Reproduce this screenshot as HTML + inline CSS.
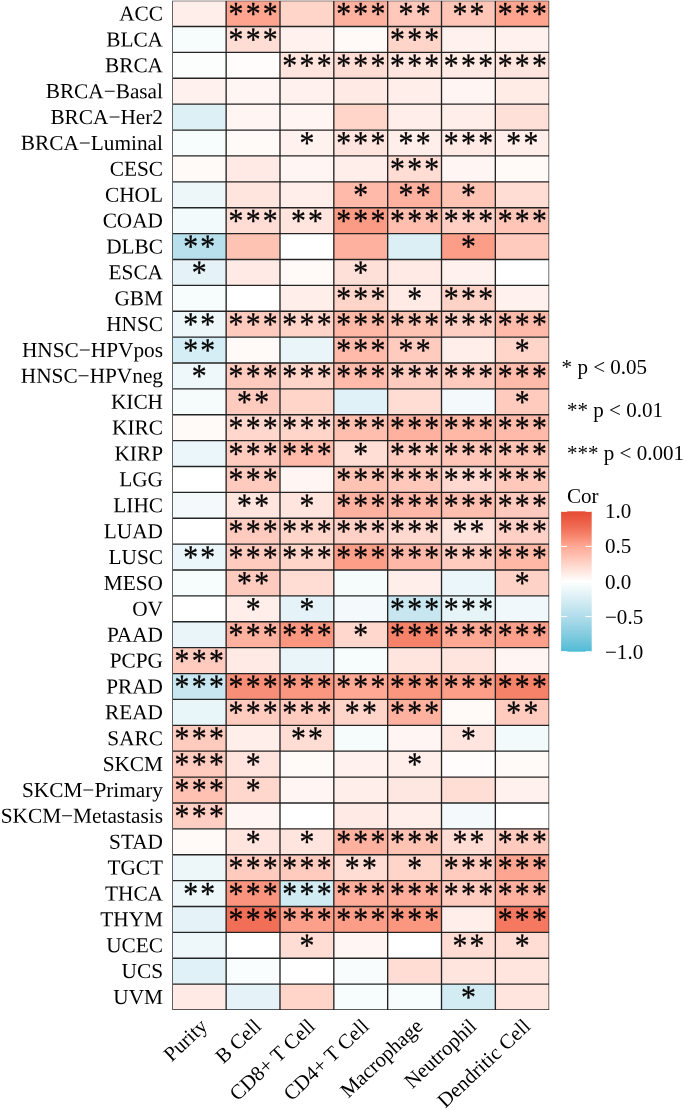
<!DOCTYPE html>
<html><head><meta charset="utf-8"><title>Cor heatmap</title>
<style>
html,body{margin:0;padding:0;background:#fff}
body{width:685px;height:1110px;overflow:hidden}
svg{display:block}
svg text{font-family:"Liberation Serif",serif;fill:#000}
.rl{font-size:21.3px;text-anchor:end}
.st{font-size:31px;text-anchor:middle;letter-spacing:2.4px;stroke:#000;stroke-width:0.3px;stroke-linejoin:round}
.cl{font-size:20.8px;text-anchor:end}
.lg{font-size:21.05px}
</style></head><body>
<svg width="685" height="1110" viewBox="0 0 685 1110">
<rect width="685" height="1110" fill="#fff"/>
<defs><linearGradient id="cb" x1="0" y1="0" x2="0" y2="1"><stop offset="0.000" stop-color="#e64b35"/><stop offset="0.025" stop-color="#e8523b"/><stop offset="0.050" stop-color="#ea5941"/><stop offset="0.075" stop-color="#ed6048"/><stop offset="0.100" stop-color="#ef6850"/><stop offset="0.125" stop-color="#f27159"/><stop offset="0.150" stop-color="#f47b63"/><stop offset="0.175" stop-color="#f7866e"/><stop offset="0.200" stop-color="#fa917b"/><stop offset="0.225" stop-color="#fc9d88"/><stop offset="0.250" stop-color="#ffa995"/><stop offset="0.275" stop-color="#ffb1a0"/><stop offset="0.300" stop-color="#ffbaaa"/><stop offset="0.325" stop-color="#ffc3b4"/><stop offset="0.350" stop-color="#ffcbbf"/><stop offset="0.375" stop-color="#ffd4c9"/><stop offset="0.400" stop-color="#ffddd4"/><stop offset="0.425" stop-color="#ffe5de"/><stop offset="0.450" stop-color="#ffeee9"/><stop offset="0.475" stop-color="#fff6f4"/><stop offset="0.500" stop-color="#ffffff"/><stop offset="0.525" stop-color="#f7fcfd"/><stop offset="0.550" stop-color="#f0f8fb"/><stop offset="0.575" stop-color="#e8f5f9"/><stop offset="0.600" stop-color="#e0f1f7"/><stop offset="0.625" stop-color="#d8eef4"/><stop offset="0.650" stop-color="#d0ebf2"/><stop offset="0.675" stop-color="#c8e7f0"/><stop offset="0.700" stop-color="#c0e4ee"/><stop offset="0.725" stop-color="#b8e0ec"/><stop offset="0.750" stop-color="#b0ddea"/><stop offset="0.775" stop-color="#a7dae8"/><stop offset="0.800" stop-color="#9fd6e6"/><stop offset="0.825" stop-color="#96d3e4"/><stop offset="0.850" stop-color="#8dcfe2"/><stop offset="0.875" stop-color="#84ccdf"/><stop offset="0.900" stop-color="#7ac9dd"/><stop offset="0.925" stop-color="#70c5db"/><stop offset="0.950" stop-color="#65c2d9"/><stop offset="0.975" stop-color="#5abed7"/><stop offset="1.000" stop-color="#4dbbd5"/></linearGradient></defs>
<clipPath id="pc"><rect x="172.30" y="0.65" width="376.90" height="1009.35"/></clipPath>
<g clip-path="url(#pc)">
<g><rect x="172.00" y="0.35" width="54.44" height="26.48" fill="#ffeee9"/><rect x="225.84" y="0.35" width="54.44" height="26.48" fill="#fea48f"/><rect x="279.69" y="0.35" width="54.44" height="26.48" fill="#ffd4c9"/><rect x="333.53" y="0.35" width="54.44" height="26.48" fill="#ffb1a0"/><rect x="387.37" y="0.35" width="54.44" height="26.48" fill="#ffc8ba"/><rect x="441.21" y="0.35" width="54.44" height="26.48" fill="#ffc6b8"/><rect x="495.06" y="0.35" width="54.44" height="26.48" fill="#fea48f"/></g>
<g><rect x="172.00" y="26.23" width="54.44" height="26.48" fill="#f7fcfd"/><rect x="225.84" y="26.23" width="54.44" height="26.48" fill="#ffddd4"/><rect x="279.69" y="26.23" width="54.44" height="26.48" fill="#fff1ee"/><rect x="333.53" y="26.23" width="54.44" height="26.48" fill="#fffaf8"/><rect x="387.37" y="26.23" width="54.44" height="26.48" fill="#ffd4c9"/><rect x="441.21" y="26.23" width="54.44" height="26.48" fill="#fff1ee"/><rect x="495.06" y="26.23" width="54.44" height="26.48" fill="#fff1ee"/></g>
<g><rect x="172.00" y="52.11" width="54.44" height="26.48" fill="#fcfefe"/><rect x="225.84" y="52.11" width="54.44" height="26.48" fill="#fffcfb"/><rect x="279.69" y="52.11" width="54.44" height="26.48" fill="#ffe5de"/><rect x="333.53" y="52.11" width="54.44" height="26.48" fill="#ffddd4"/><rect x="387.37" y="52.11" width="54.44" height="26.48" fill="#ffe5de"/><rect x="441.21" y="52.11" width="54.44" height="26.48" fill="#ffeae5"/><rect x="495.06" y="52.11" width="54.44" height="26.48" fill="#ffe5de"/></g>
<g><rect x="172.00" y="77.99" width="54.44" height="26.48" fill="#fff1ee"/><rect x="225.84" y="77.99" width="54.44" height="26.48" fill="#fff6f4"/><rect x="279.69" y="77.99" width="54.44" height="26.48" fill="#fff1ee"/><rect x="333.53" y="77.99" width="54.44" height="26.48" fill="#ffeae5"/><rect x="387.37" y="77.99" width="54.44" height="26.48" fill="#ffeee9"/><rect x="441.21" y="77.99" width="54.44" height="26.48" fill="#fff6f4"/><rect x="495.06" y="77.99" width="54.44" height="26.48" fill="#ffece7"/></g>
<g><rect x="172.00" y="103.87" width="54.44" height="26.48" fill="#ddf0f6"/><rect x="225.84" y="103.87" width="54.44" height="26.48" fill="#fff6f4"/><rect x="279.69" y="103.87" width="54.44" height="26.48" fill="#fff6f4"/><rect x="333.53" y="103.87" width="54.44" height="26.48" fill="#ffd4c9"/><rect x="387.37" y="103.87" width="54.44" height="26.48" fill="#ffeee9"/><rect x="441.21" y="103.87" width="54.44" height="26.48" fill="#ffeee9"/><rect x="495.06" y="103.87" width="54.44" height="26.48" fill="#ffe0d8"/></g>
<g><rect x="172.00" y="129.75" width="54.44" height="26.48" fill="#f7fcfd"/><rect x="225.84" y="129.75" width="54.44" height="26.48" fill="#fffaf8"/><rect x="279.69" y="129.75" width="54.44" height="26.48" fill="#fff1ee"/><rect x="333.53" y="129.75" width="54.44" height="26.48" fill="#ffe5de"/><rect x="387.37" y="129.75" width="54.44" height="26.48" fill="#ffeee9"/><rect x="441.21" y="129.75" width="54.44" height="26.48" fill="#ffeae5"/><rect x="495.06" y="129.75" width="54.44" height="26.48" fill="#ffeee9"/></g>
<g><rect x="172.00" y="155.63" width="54.44" height="26.48" fill="#fffaf8"/><rect x="225.84" y="155.63" width="54.44" height="26.48" fill="#ffeae5"/><rect x="279.69" y="155.63" width="54.44" height="26.48" fill="#fff6f4"/><rect x="333.53" y="155.63" width="54.44" height="26.48" fill="#ffeee9"/><rect x="387.37" y="155.63" width="54.44" height="26.48" fill="#ffddd4"/><rect x="441.21" y="155.63" width="54.44" height="26.48" fill="#fff6f4"/><rect x="495.06" y="155.63" width="54.44" height="26.48" fill="#fffaf8"/></g>
<g><rect x="172.00" y="181.52" width="54.44" height="26.48" fill="#edf7fa"/><rect x="225.84" y="181.52" width="54.44" height="26.48" fill="#ffe5de"/><rect x="279.69" y="181.52" width="54.44" height="26.48" fill="#ffeee9"/><rect x="333.53" y="181.52" width="54.44" height="26.48" fill="#ffbaaa"/><rect x="387.37" y="181.52" width="54.44" height="26.48" fill="#ffb1a0"/><rect x="441.21" y="181.52" width="54.44" height="26.48" fill="#ffc3b4"/><rect x="495.06" y="181.52" width="54.44" height="26.48" fill="#ffddd4"/></g>
<g><rect x="172.00" y="207.40" width="54.44" height="26.48" fill="#f3fafc"/><rect x="225.84" y="207.40" width="54.44" height="26.48" fill="#ffddd4"/><rect x="279.69" y="207.40" width="54.44" height="26.48" fill="#ffe5de"/><rect x="333.53" y="207.40" width="54.44" height="26.48" fill="#fc9b85"/><rect x="387.37" y="207.40" width="54.44" height="26.48" fill="#ffbeae"/><rect x="441.21" y="207.40" width="54.44" height="26.48" fill="#ffcfc3"/><rect x="495.06" y="207.40" width="54.44" height="26.48" fill="#ffc6b8"/></g>
<g><rect x="172.00" y="233.28" width="54.44" height="26.48" fill="#b8e0ec"/><rect x="225.84" y="233.28" width="54.44" height="26.48" fill="#ffc3b4"/><rect x="279.69" y="233.28" width="54.44" height="26.48" fill="#ffffff"/><rect x="333.53" y="233.28" width="54.44" height="26.48" fill="#ffb1a0"/><rect x="387.37" y="233.28" width="54.44" height="26.48" fill="#dbeff5"/><rect x="441.21" y="233.28" width="54.44" height="26.48" fill="#fc9d87"/><rect x="495.06" y="233.28" width="54.44" height="26.48" fill="#ffcbbf"/></g>
<g><rect x="172.00" y="259.16" width="54.44" height="26.48" fill="#e5f3f8"/><rect x="225.84" y="259.16" width="54.44" height="26.48" fill="#ffeae5"/><rect x="279.69" y="259.16" width="54.44" height="26.48" fill="#fffaf8"/><rect x="333.53" y="259.16" width="54.44" height="26.48" fill="#ffe0d8"/><rect x="387.37" y="259.16" width="54.44" height="26.48" fill="#ffeae5"/><rect x="441.21" y="259.16" width="54.44" height="26.48" fill="#fff1ee"/><rect x="495.06" y="259.16" width="54.44" height="26.48" fill="#ffffff"/></g>
<g><rect x="172.00" y="285.04" width="54.44" height="26.48" fill="#f7fcfd"/><rect x="225.84" y="285.04" width="54.44" height="26.48" fill="#ffffff"/><rect x="279.69" y="285.04" width="54.44" height="26.48" fill="#ffeee9"/><rect x="333.53" y="285.04" width="54.44" height="26.48" fill="#ffd4c9"/><rect x="387.37" y="285.04" width="54.44" height="26.48" fill="#ffeae5"/><rect x="441.21" y="285.04" width="54.44" height="26.48" fill="#ffd2c7"/><rect x="495.06" y="285.04" width="54.44" height="26.48" fill="#fff1ee"/></g>
<g><rect x="172.00" y="310.92" width="54.44" height="26.48" fill="#edf7fa"/><rect x="225.84" y="310.92" width="54.44" height="26.48" fill="#ffcbbf"/><rect x="279.69" y="310.92" width="54.44" height="26.48" fill="#ffd4c9"/><rect x="333.53" y="310.92" width="54.44" height="26.48" fill="#ffb7a6"/><rect x="387.37" y="310.92" width="54.44" height="26.48" fill="#ffc3b4"/><rect x="441.21" y="310.92" width="54.44" height="26.48" fill="#ffcfc3"/><rect x="495.06" y="310.92" width="54.44" height="26.48" fill="#ffbaaa"/></g>
<g><rect x="172.00" y="336.80" width="54.44" height="26.48" fill="#d5edf4"/><rect x="225.84" y="336.80" width="54.44" height="26.48" fill="#fffaf8"/><rect x="279.69" y="336.80" width="54.44" height="26.48" fill="#e9f5f9"/><rect x="333.53" y="336.80" width="54.44" height="26.48" fill="#ffbaaa"/><rect x="387.37" y="336.80" width="54.44" height="26.48" fill="#ffcbbf"/><rect x="441.21" y="336.80" width="54.44" height="26.48" fill="#ffeee9"/><rect x="495.06" y="336.80" width="54.44" height="26.48" fill="#ffd4c9"/></g>
<g><rect x="172.00" y="362.68" width="54.44" height="26.48" fill="#eef7fa"/><rect x="225.84" y="362.68" width="54.44" height="26.48" fill="#ffcbbf"/><rect x="279.69" y="362.68" width="54.44" height="26.48" fill="#ffd4c9"/><rect x="333.53" y="362.68" width="54.44" height="26.48" fill="#ffbaaa"/><rect x="387.37" y="362.68" width="54.44" height="26.48" fill="#ffcbbf"/><rect x="441.21" y="362.68" width="54.44" height="26.48" fill="#ffcbbf"/><rect x="495.06" y="362.68" width="54.44" height="26.48" fill="#ffbaaa"/></g>
<g><rect x="172.00" y="388.56" width="54.44" height="26.48" fill="#f6fbfc"/><rect x="225.84" y="388.56" width="54.44" height="26.48" fill="#ffcbbf"/><rect x="279.69" y="388.56" width="54.44" height="26.48" fill="#ffd4c9"/><rect x="333.53" y="388.56" width="54.44" height="26.48" fill="#e0f1f7"/><rect x="387.37" y="388.56" width="54.44" height="26.48" fill="#ffddd4"/><rect x="441.21" y="388.56" width="54.44" height="26.48" fill="#f4fafc"/><rect x="495.06" y="388.56" width="54.44" height="26.48" fill="#ffcbbf"/></g>
<g><rect x="172.00" y="414.44" width="54.44" height="26.48" fill="#fffaf8"/><rect x="225.84" y="414.44" width="54.44" height="26.48" fill="#ffd7cd"/><rect x="279.69" y="414.44" width="54.44" height="26.48" fill="#ffd4c9"/><rect x="333.53" y="414.44" width="54.44" height="26.48" fill="#ffbeae"/><rect x="387.37" y="414.44" width="54.44" height="26.48" fill="#ffb1a0"/><rect x="441.21" y="414.44" width="54.44" height="26.48" fill="#ffb7a6"/><rect x="495.06" y="414.44" width="54.44" height="26.48" fill="#ffbaaa"/></g>
<g><rect x="172.00" y="440.32" width="54.44" height="26.48" fill="#ebf6fa"/><rect x="225.84" y="440.32" width="54.44" height="26.48" fill="#ffcbbf"/><rect x="279.69" y="440.32" width="54.44" height="26.48" fill="#ffbaaa"/><rect x="333.53" y="440.32" width="54.44" height="26.48" fill="#ffded6"/><rect x="387.37" y="440.32" width="54.44" height="26.48" fill="#ffcbbf"/><rect x="441.21" y="440.32" width="54.44" height="26.48" fill="#ffc6b8"/><rect x="495.06" y="440.32" width="54.44" height="26.48" fill="#ffc3b4"/></g>
<g><rect x="172.00" y="466.20" width="54.44" height="26.48" fill="#ffffff"/><rect x="225.84" y="466.20" width="54.44" height="26.48" fill="#ffcbbf"/><rect x="279.69" y="466.20" width="54.44" height="26.48" fill="#fff6f4"/><rect x="333.53" y="466.20" width="54.44" height="26.48" fill="#ffc3b4"/><rect x="387.37" y="466.20" width="54.44" height="26.48" fill="#ffc8ba"/><rect x="441.21" y="466.20" width="54.44" height="26.48" fill="#ffd9cf"/><rect x="495.06" y="466.20" width="54.44" height="26.48" fill="#ffc8ba"/></g>
<g><rect x="172.00" y="492.08" width="54.44" height="26.48" fill="#f4fafc"/><rect x="225.84" y="492.08" width="54.44" height="26.48" fill="#ffe5de"/><rect x="279.69" y="492.08" width="54.44" height="26.48" fill="#ffe5de"/><rect x="333.53" y="492.08" width="54.44" height="26.48" fill="#ffb1a0"/><rect x="387.37" y="492.08" width="54.44" height="26.48" fill="#ffb8a8"/><rect x="441.21" y="492.08" width="54.44" height="26.48" fill="#ffbfb0"/><rect x="495.06" y="492.08" width="54.44" height="26.48" fill="#ffcabd"/></g>
<g><rect x="172.00" y="517.97" width="54.44" height="26.48" fill="#ffffff"/><rect x="225.84" y="517.97" width="54.44" height="26.48" fill="#ffcbbf"/><rect x="279.69" y="517.97" width="54.44" height="26.48" fill="#ffd4c9"/><rect x="333.53" y="517.97" width="54.44" height="26.48" fill="#ffd0c5"/><rect x="387.37" y="517.97" width="54.44" height="26.48" fill="#ffd9cf"/><rect x="441.21" y="517.97" width="54.44" height="26.48" fill="#ffe5de"/><rect x="495.06" y="517.97" width="54.44" height="26.48" fill="#ffd0c5"/></g>
<g><rect x="172.00" y="543.85" width="54.44" height="26.48" fill="#ebf6fa"/><rect x="225.84" y="543.85" width="54.44" height="26.48" fill="#ffcbbf"/><rect x="279.69" y="543.85" width="54.44" height="26.48" fill="#ffd4c9"/><rect x="333.53" y="543.85" width="54.44" height="26.48" fill="#fd9e89"/><rect x="387.37" y="543.85" width="54.44" height="26.48" fill="#ffb8a8"/><rect x="441.21" y="543.85" width="54.44" height="26.48" fill="#ffcbbf"/><rect x="495.06" y="543.85" width="54.44" height="26.48" fill="#ffb7a6"/></g>
<g><rect x="172.00" y="569.73" width="54.44" height="26.48" fill="#f7fcfd"/><rect x="225.84" y="569.73" width="54.44" height="26.48" fill="#ffcbbf"/><rect x="279.69" y="569.73" width="54.44" height="26.48" fill="#ffddd4"/><rect x="333.53" y="569.73" width="54.44" height="26.48" fill="#f6fbfc"/><rect x="387.37" y="569.73" width="54.44" height="26.48" fill="#ffeee9"/><rect x="441.21" y="569.73" width="54.44" height="26.48" fill="#ebf6fa"/><rect x="495.06" y="569.73" width="54.44" height="26.48" fill="#ffd2c7"/></g>
<g><rect x="172.00" y="595.61" width="54.44" height="26.48" fill="#ffffff"/><rect x="225.84" y="595.61" width="54.44" height="26.48" fill="#ffeee9"/><rect x="279.69" y="595.61" width="54.44" height="26.48" fill="#e5f3f8"/><rect x="333.53" y="595.61" width="54.44" height="26.48" fill="#f4fafc"/><rect x="387.37" y="595.61" width="54.44" height="26.48" fill="#c7e6f0"/><rect x="441.21" y="595.61" width="54.44" height="26.48" fill="#e6f4f8"/><rect x="495.06" y="595.61" width="54.44" height="26.48" fill="#f0f8fb"/></g>
<g><rect x="172.00" y="621.49" width="54.44" height="26.48" fill="#e9f5f9"/><rect x="225.84" y="621.49" width="54.44" height="26.48" fill="#ffb1a0"/><rect x="279.69" y="621.49" width="54.44" height="26.48" fill="#fb9781"/><rect x="333.53" y="621.49" width="54.44" height="26.48" fill="#ffd7cd"/><rect x="387.37" y="621.49" width="54.44" height="26.48" fill="#f6826a"/><rect x="441.21" y="621.49" width="54.44" height="26.48" fill="#ffa995"/><rect x="495.06" y="621.49" width="54.44" height="26.48" fill="#fda08b"/></g>
<g><rect x="172.00" y="647.37" width="54.44" height="26.48" fill="#ffcbbf"/><rect x="225.84" y="647.37" width="54.44" height="26.48" fill="#ffeae5"/><rect x="279.69" y="647.37" width="54.44" height="26.48" fill="#e9f5f9"/><rect x="333.53" y="647.37" width="54.44" height="26.48" fill="#f7fcfd"/><rect x="387.37" y="647.37" width="54.44" height="26.48" fill="#ffe5de"/><rect x="441.21" y="647.37" width="54.44" height="26.48" fill="#ffe5de"/><rect x="495.06" y="647.37" width="54.44" height="26.48" fill="#fff6f4"/></g>
<g><rect x="172.00" y="673.25" width="54.44" height="26.48" fill="#c7e6f0"/><rect x="225.84" y="673.25" width="54.44" height="26.48" fill="#f98e78"/><rect x="279.69" y="673.25" width="54.44" height="26.48" fill="#fb9781"/><rect x="333.53" y="673.25" width="54.44" height="26.48" fill="#ffa995"/><rect x="387.37" y="673.25" width="54.44" height="26.48" fill="#fb967f"/><rect x="441.21" y="673.25" width="54.44" height="26.48" fill="#fd9e89"/><rect x="495.06" y="673.25" width="54.44" height="26.48" fill="#f6826a"/></g>
<g><rect x="172.00" y="699.13" width="54.44" height="26.48" fill="#e8f5f9"/><rect x="225.84" y="699.13" width="54.44" height="26.48" fill="#ffcbbf"/><rect x="279.69" y="699.13" width="54.44" height="26.48" fill="#ffcbbf"/><rect x="333.53" y="699.13" width="54.44" height="26.48" fill="#ffd4c9"/><rect x="387.37" y="699.13" width="54.44" height="26.48" fill="#ffb1a0"/><rect x="441.21" y="699.13" width="54.44" height="26.48" fill="#fffaf8"/><rect x="495.06" y="699.13" width="54.44" height="26.48" fill="#ffcbbf"/></g>
<g><rect x="172.00" y="725.01" width="54.44" height="26.48" fill="#ffcbbf"/><rect x="225.84" y="725.01" width="54.44" height="26.48" fill="#ffeee9"/><rect x="279.69" y="725.01" width="54.44" height="26.48" fill="#ffddd4"/><rect x="333.53" y="725.01" width="54.44" height="26.48" fill="#f6fbfc"/><rect x="387.37" y="725.01" width="54.44" height="26.48" fill="#fff6f4"/><rect x="441.21" y="725.01" width="54.44" height="26.48" fill="#ffe5de"/><rect x="495.06" y="725.01" width="54.44" height="26.48" fill="#f3fafc"/></g>
<g><rect x="172.00" y="750.89" width="54.44" height="26.48" fill="#ffcbbf"/><rect x="225.84" y="750.89" width="54.44" height="26.48" fill="#ffe3dc"/><rect x="279.69" y="750.89" width="54.44" height="26.48" fill="#fffaf8"/><rect x="333.53" y="750.89" width="54.44" height="26.48" fill="#fff1ee"/><rect x="387.37" y="750.89" width="54.44" height="26.48" fill="#ffeee9"/><rect x="441.21" y="750.89" width="54.44" height="26.48" fill="#fffcfb"/><rect x="495.06" y="750.89" width="54.44" height="26.48" fill="#fffaf8"/></g>
<g><rect x="172.00" y="776.77" width="54.44" height="26.48" fill="#ffc1b2"/><rect x="225.84" y="776.77" width="54.44" height="26.48" fill="#ffd7cd"/><rect x="279.69" y="776.77" width="54.44" height="26.48" fill="#fff6f4"/><rect x="333.53" y="776.77" width="54.44" height="26.48" fill="#ffeee9"/><rect x="387.37" y="776.77" width="54.44" height="26.48" fill="#ffe7e1"/><rect x="441.21" y="776.77" width="54.44" height="26.48" fill="#ffded6"/><rect x="495.06" y="776.77" width="54.44" height="26.48" fill="#fff1ee"/></g>
<g><rect x="172.00" y="802.65" width="54.44" height="26.48" fill="#ffcfc3"/><rect x="225.84" y="802.65" width="54.44" height="26.48" fill="#fff6f4"/><rect x="279.69" y="802.65" width="54.44" height="26.48" fill="#ffffff"/><rect x="333.53" y="802.65" width="54.44" height="26.48" fill="#ffeae5"/><rect x="387.37" y="802.65" width="54.44" height="26.48" fill="#ffeee9"/><rect x="441.21" y="802.65" width="54.44" height="26.48" fill="#f4fafc"/><rect x="495.06" y="802.65" width="54.44" height="26.48" fill="#ffffff"/></g>
<g><rect x="172.00" y="828.53" width="54.44" height="26.48" fill="#fffaf8"/><rect x="225.84" y="828.53" width="54.44" height="26.48" fill="#ffe5de"/><rect x="279.69" y="828.53" width="54.44" height="26.48" fill="#ffe5de"/><rect x="333.53" y="828.53" width="54.44" height="26.48" fill="#ffb1a0"/><rect x="387.37" y="828.53" width="54.44" height="26.48" fill="#ffc3b4"/><rect x="441.21" y="828.53" width="54.44" height="26.48" fill="#ffddd4"/><rect x="495.06" y="828.53" width="54.44" height="26.48" fill="#ffcbbf"/></g>
<g><rect x="172.00" y="854.42" width="54.44" height="26.48" fill="#edf7fa"/><rect x="225.84" y="854.42" width="54.44" height="26.48" fill="#ffcbbf"/><rect x="279.69" y="854.42" width="54.44" height="26.48" fill="#ffcbbf"/><rect x="333.53" y="854.42" width="54.44" height="26.48" fill="#ffddd4"/><rect x="387.37" y="854.42" width="54.44" height="26.48" fill="#ffd4c9"/><rect x="441.21" y="854.42" width="54.44" height="26.48" fill="#ffcbbf"/><rect x="495.06" y="854.42" width="54.44" height="26.48" fill="#fea591"/></g>
<g><rect x="172.00" y="880.30" width="54.44" height="26.48" fill="#edf7fa"/><rect x="225.84" y="880.30" width="54.44" height="26.48" fill="#fb947e"/><rect x="279.69" y="880.30" width="54.44" height="26.48" fill="#d0ebf2"/><rect x="333.53" y="880.30" width="54.44" height="26.48" fill="#ffac9a"/><rect x="387.37" y="880.30" width="54.44" height="26.48" fill="#ffac9a"/><rect x="441.21" y="880.30" width="54.44" height="26.48" fill="#ffcbbf"/><rect x="495.06" y="880.30" width="54.44" height="26.48" fill="#ffb1a0"/></g>
<g><rect x="172.00" y="906.18" width="54.44" height="26.48" fill="#e5f3f8"/><rect x="225.84" y="906.18" width="54.44" height="26.48" fill="#f16f57"/><rect x="279.69" y="906.18" width="54.44" height="26.48" fill="#fda08b"/><rect x="333.53" y="906.18" width="54.44" height="26.48" fill="#fc9d87"/><rect x="387.37" y="906.18" width="54.44" height="26.48" fill="#fb967f"/><rect x="441.21" y="906.18" width="54.44" height="26.48" fill="#ffeee9"/><rect x="495.06" y="906.18" width="54.44" height="26.48" fill="#f47960"/></g>
<g><rect x="172.00" y="932.06" width="54.44" height="26.48" fill="#eef7fa"/><rect x="225.84" y="932.06" width="54.44" height="26.48" fill="#ffffff"/><rect x="279.69" y="932.06" width="54.44" height="26.48" fill="#ffddd4"/><rect x="333.53" y="932.06" width="54.44" height="26.48" fill="#fff6f4"/><rect x="387.37" y="932.06" width="54.44" height="26.48" fill="#ffffff"/><rect x="441.21" y="932.06" width="54.44" height="26.48" fill="#ffddd4"/><rect x="495.06" y="932.06" width="54.44" height="26.48" fill="#ffddd4"/></g>
<g><rect x="172.00" y="957.94" width="54.44" height="26.48" fill="#e0f1f7"/><rect x="225.84" y="957.94" width="54.44" height="26.48" fill="#fafdfe"/><rect x="279.69" y="957.94" width="54.44" height="26.48" fill="#ffffff"/><rect x="333.53" y="957.94" width="54.44" height="26.48" fill="#f9fcfd"/><rect x="387.37" y="957.94" width="54.44" height="26.48" fill="#ffddd4"/><rect x="441.21" y="957.94" width="54.44" height="26.48" fill="#ffe5de"/><rect x="495.06" y="957.94" width="54.44" height="26.48" fill="#ffe5de"/></g>
<g><rect x="172.00" y="983.82" width="54.44" height="26.48" fill="#ffeae5"/><rect x="225.84" y="983.82" width="54.44" height="26.48" fill="#e5f3f8"/><rect x="279.69" y="983.82" width="54.44" height="26.48" fill="#ffd4c9"/><rect x="333.53" y="983.82" width="54.44" height="26.48" fill="#f7fcfd"/><rect x="387.37" y="983.82" width="54.44" height="26.48" fill="#f7fcfd"/><rect x="441.21" y="983.82" width="54.44" height="26.48" fill="#d3ecf3"/><rect x="495.06" y="983.82" width="54.44" height="26.48" fill="#ffe5de"/></g>
<path d="M171.30 0.65H550.20M171.30 26.53H550.20M171.30 52.41H550.20M171.30 78.29H550.20M171.30 104.17H550.20M171.30 130.05H550.20M171.30 155.93H550.20M171.30 181.82H550.20M171.30 207.70H550.20M171.30 233.58H550.20M171.30 259.46H550.20M171.30 285.34H550.20M171.30 311.22H550.20M171.30 337.10H550.20M171.30 362.98H550.20M171.30 388.86H550.20M171.30 414.74H550.20M171.30 440.62H550.20M171.30 466.50H550.20M171.30 492.38H550.20M171.30 518.27H550.20M171.30 544.15H550.20M171.30 570.03H550.20M171.30 595.91H550.20M171.30 621.79H550.20M171.30 647.67H550.20M171.30 673.55H550.20M171.30 699.43H550.20M171.30 725.31H550.20M171.30 751.19H550.20M171.30 777.07H550.20M171.30 802.95H550.20M171.30 828.83H550.20M171.30 854.72H550.20M171.30 880.60H550.20M171.30 906.48H550.20M171.30 932.36H550.20M171.30 958.24H550.20M171.30 984.12H550.20M171.30 1010.00H550.20M172.30 -0.35V1011.00M226.14 -0.35V1011.00M279.99 -0.35V1011.00M333.83 -0.35V1011.00M387.67 -0.35V1011.00M441.51 -0.35V1011.00M495.36 -0.35V1011.00M549.20 -0.35V1011.00" fill="none" stroke="#242424" stroke-width="1.35"/>
</g>
<text class="rl" x="163" y="20.54" transform="rotate(0.03 163 20.54)">ACC</text><text class="st" transform="translate(254.22 24.44) rotate(0.03) scale(0.96 1.06)">***</text><text class="st" transform="translate(361.90 24.44) rotate(0.03) scale(0.96 1.06)">***</text><text class="st" transform="translate(415.74 24.44) rotate(0.03) scale(0.96 1.06)">**</text><text class="st" transform="translate(469.59 24.44) rotate(0.03) scale(0.96 1.06)">**</text><text class="st" transform="translate(523.43 24.44) rotate(0.03) scale(0.96 1.06)">***</text>
<text class="rl" x="163" y="46.42" transform="rotate(0.03 163 46.42)">BLCA</text><text class="st" transform="translate(254.22 50.32) rotate(0.03) scale(0.96 1.06)">***</text><text class="st" transform="translate(415.74 50.32) rotate(0.03) scale(0.96 1.06)">***</text>
<text class="rl" x="163" y="72.30" transform="rotate(0.03 163 72.30)">BRCA</text><text class="st" transform="translate(308.06 76.20) rotate(0.03) scale(0.96 1.06)">***</text><text class="st" transform="translate(361.90 76.20) rotate(0.03) scale(0.96 1.06)">***</text><text class="st" transform="translate(415.74 76.20) rotate(0.03) scale(0.96 1.06)">***</text><text class="st" transform="translate(469.59 76.20) rotate(0.03) scale(0.96 1.06)">***</text><text class="st" transform="translate(523.43 76.20) rotate(0.03) scale(0.96 1.06)">***</text>
<text class="rl" x="163" y="98.18" transform="rotate(0.03 163 98.18)">BRCA−Basal</text>
<text class="rl" x="163" y="124.06" transform="rotate(0.03 163 124.06)">BRCA−Her2</text>
<text class="rl" x="163" y="149.94" transform="rotate(0.03 163 149.94)">BRCA−Luminal</text><text class="st" transform="translate(308.06 153.84) rotate(0.03) scale(0.96 1.06)">*</text><text class="st" transform="translate(361.90 153.84) rotate(0.03) scale(0.96 1.06)">***</text><text class="st" transform="translate(415.74 153.84) rotate(0.03) scale(0.96 1.06)">**</text><text class="st" transform="translate(469.59 153.84) rotate(0.03) scale(0.96 1.06)">***</text><text class="st" transform="translate(523.43 153.84) rotate(0.03) scale(0.96 1.06)">**</text>
<text class="rl" x="163" y="175.82" transform="rotate(0.03 163 175.82)">CESC</text><text class="st" transform="translate(415.74 179.72) rotate(0.03) scale(0.96 1.06)">***</text>
<text class="rl" x="163" y="201.71" transform="rotate(0.03 163 201.71)">CHOL</text><text class="st" transform="translate(361.90 205.61) rotate(0.03) scale(0.96 1.06)">*</text><text class="st" transform="translate(415.74 205.61) rotate(0.03) scale(0.96 1.06)">**</text><text class="st" transform="translate(469.59 205.61) rotate(0.03) scale(0.96 1.06)">*</text>
<text class="rl" x="163" y="227.59" transform="rotate(0.03 163 227.59)">COAD</text><text class="st" transform="translate(254.22 231.49) rotate(0.03) scale(0.96 1.06)">***</text><text class="st" transform="translate(308.06 231.49) rotate(0.03) scale(0.96 1.06)">**</text><text class="st" transform="translate(361.90 231.49) rotate(0.03) scale(0.96 1.06)">***</text><text class="st" transform="translate(415.74 231.49) rotate(0.03) scale(0.96 1.06)">***</text><text class="st" transform="translate(469.59 231.49) rotate(0.03) scale(0.96 1.06)">***</text><text class="st" transform="translate(523.43 231.49) rotate(0.03) scale(0.96 1.06)">***</text>
<text class="rl" x="163" y="253.47" transform="rotate(0.03 163 253.47)">DLBC</text><text class="st" transform="translate(200.37 257.37) rotate(0.03) scale(0.96 1.06)">**</text><text class="st" transform="translate(469.59 257.37) rotate(0.03) scale(0.96 1.06)">*</text>
<text class="rl" x="163" y="279.35" transform="rotate(0.03 163 279.35)">ESCA</text><text class="st" transform="translate(200.37 283.25) rotate(0.03) scale(0.96 1.06)">*</text><text class="st" transform="translate(361.90 283.25) rotate(0.03) scale(0.96 1.06)">*</text>
<text class="rl" x="163" y="305.23" transform="rotate(0.03 163 305.23)">GBM</text><text class="st" transform="translate(361.90 309.13) rotate(0.03) scale(0.96 1.06)">***</text><text class="st" transform="translate(415.74 309.13) rotate(0.03) scale(0.96 1.06)">*</text><text class="st" transform="translate(469.59 309.13) rotate(0.03) scale(0.96 1.06)">***</text>
<text class="rl" x="163" y="331.11" transform="rotate(0.03 163 331.11)">HNSC</text><text class="st" transform="translate(200.37 335.01) rotate(0.03) scale(0.96 1.06)">**</text><text class="st" transform="translate(254.22 335.01) rotate(0.03) scale(0.96 1.06)">***</text><text class="st" transform="translate(308.06 335.01) rotate(0.03) scale(0.96 1.06)">***</text><text class="st" transform="translate(361.90 335.01) rotate(0.03) scale(0.96 1.06)">***</text><text class="st" transform="translate(415.74 335.01) rotate(0.03) scale(0.96 1.06)">***</text><text class="st" transform="translate(469.59 335.01) rotate(0.03) scale(0.96 1.06)">***</text><text class="st" transform="translate(523.43 335.01) rotate(0.03) scale(0.96 1.06)">***</text>
<text class="rl" x="163" y="356.99" transform="rotate(0.03 163 356.99)">HNSC−HPVpos</text><text class="st" transform="translate(200.37 360.89) rotate(0.03) scale(0.96 1.06)">**</text><text class="st" transform="translate(361.90 360.89) rotate(0.03) scale(0.96 1.06)">***</text><text class="st" transform="translate(415.74 360.89) rotate(0.03) scale(0.96 1.06)">**</text><text class="st" transform="translate(523.43 360.89) rotate(0.03) scale(0.96 1.06)">*</text>
<text class="rl" x="163" y="382.87" transform="rotate(0.03 163 382.87)">HNSC−HPVneg</text><text class="st" transform="translate(200.37 386.77) rotate(0.03) scale(0.96 1.06)">*</text><text class="st" transform="translate(254.22 386.77) rotate(0.03) scale(0.96 1.06)">***</text><text class="st" transform="translate(308.06 386.77) rotate(0.03) scale(0.96 1.06)">***</text><text class="st" transform="translate(361.90 386.77) rotate(0.03) scale(0.96 1.06)">***</text><text class="st" transform="translate(415.74 386.77) rotate(0.03) scale(0.96 1.06)">***</text><text class="st" transform="translate(469.59 386.77) rotate(0.03) scale(0.96 1.06)">***</text><text class="st" transform="translate(523.43 386.77) rotate(0.03) scale(0.96 1.06)">***</text>
<text class="rl" x="163" y="408.75" transform="rotate(0.03 163 408.75)">KICH</text><text class="st" transform="translate(254.22 412.65) rotate(0.03) scale(0.96 1.06)">**</text><text class="st" transform="translate(523.43 412.65) rotate(0.03) scale(0.96 1.06)">*</text>
<text class="rl" x="163" y="434.63" transform="rotate(0.03 163 434.63)">KIRC</text><text class="st" transform="translate(254.22 438.53) rotate(0.03) scale(0.96 1.06)">***</text><text class="st" transform="translate(308.06 438.53) rotate(0.03) scale(0.96 1.06)">***</text><text class="st" transform="translate(361.90 438.53) rotate(0.03) scale(0.96 1.06)">***</text><text class="st" transform="translate(415.74 438.53) rotate(0.03) scale(0.96 1.06)">***</text><text class="st" transform="translate(469.59 438.53) rotate(0.03) scale(0.96 1.06)">***</text><text class="st" transform="translate(523.43 438.53) rotate(0.03) scale(0.96 1.06)">***</text>
<text class="rl" x="163" y="460.51" transform="rotate(0.03 163 460.51)">KIRP</text><text class="st" transform="translate(254.22 464.41) rotate(0.03) scale(0.96 1.06)">***</text><text class="st" transform="translate(308.06 464.41) rotate(0.03) scale(0.96 1.06)">***</text><text class="st" transform="translate(361.90 464.41) rotate(0.03) scale(0.96 1.06)">*</text><text class="st" transform="translate(415.74 464.41) rotate(0.03) scale(0.96 1.06)">***</text><text class="st" transform="translate(469.59 464.41) rotate(0.03) scale(0.96 1.06)">***</text><text class="st" transform="translate(523.43 464.41) rotate(0.03) scale(0.96 1.06)">***</text>
<text class="rl" x="163" y="486.39" transform="rotate(0.03 163 486.39)">LGG</text><text class="st" transform="translate(254.22 490.29) rotate(0.03) scale(0.96 1.06)">***</text><text class="st" transform="translate(361.90 490.29) rotate(0.03) scale(0.96 1.06)">***</text><text class="st" transform="translate(415.74 490.29) rotate(0.03) scale(0.96 1.06)">***</text><text class="st" transform="translate(469.59 490.29) rotate(0.03) scale(0.96 1.06)">***</text><text class="st" transform="translate(523.43 490.29) rotate(0.03) scale(0.96 1.06)">***</text>
<text class="rl" x="163" y="512.27" transform="rotate(0.03 163 512.27)">LIHC</text><text class="st" transform="translate(254.22 516.17) rotate(0.03) scale(0.96 1.06)">**</text><text class="st" transform="translate(308.06 516.17) rotate(0.03) scale(0.96 1.06)">*</text><text class="st" transform="translate(361.90 516.17) rotate(0.03) scale(0.96 1.06)">***</text><text class="st" transform="translate(415.74 516.17) rotate(0.03) scale(0.96 1.06)">***</text><text class="st" transform="translate(469.59 516.17) rotate(0.03) scale(0.96 1.06)">***</text><text class="st" transform="translate(523.43 516.17) rotate(0.03) scale(0.96 1.06)">***</text>
<text class="rl" x="163" y="538.16" transform="rotate(0.03 163 538.16)">LUAD</text><text class="st" transform="translate(254.22 542.06) rotate(0.03) scale(0.96 1.06)">***</text><text class="st" transform="translate(308.06 542.06) rotate(0.03) scale(0.96 1.06)">***</text><text class="st" transform="translate(361.90 542.06) rotate(0.03) scale(0.96 1.06)">***</text><text class="st" transform="translate(415.74 542.06) rotate(0.03) scale(0.96 1.06)">***</text><text class="st" transform="translate(469.59 542.06) rotate(0.03) scale(0.96 1.06)">**</text><text class="st" transform="translate(523.43 542.06) rotate(0.03) scale(0.96 1.06)">***</text>
<text class="rl" x="163" y="564.04" transform="rotate(0.03 163 564.04)">LUSC</text><text class="st" transform="translate(200.37 567.94) rotate(0.03) scale(0.96 1.06)">**</text><text class="st" transform="translate(254.22 567.94) rotate(0.03) scale(0.96 1.06)">***</text><text class="st" transform="translate(308.06 567.94) rotate(0.03) scale(0.96 1.06)">***</text><text class="st" transform="translate(361.90 567.94) rotate(0.03) scale(0.96 1.06)">***</text><text class="st" transform="translate(415.74 567.94) rotate(0.03) scale(0.96 1.06)">***</text><text class="st" transform="translate(469.59 567.94) rotate(0.03) scale(0.96 1.06)">***</text><text class="st" transform="translate(523.43 567.94) rotate(0.03) scale(0.96 1.06)">***</text>
<text class="rl" x="163" y="589.92" transform="rotate(0.03 163 589.92)">MESO</text><text class="st" transform="translate(254.22 593.82) rotate(0.03) scale(0.96 1.06)">**</text><text class="st" transform="translate(523.43 593.82) rotate(0.03) scale(0.96 1.06)">*</text>
<text class="rl" x="163" y="615.80" transform="rotate(0.03 163 615.80)">OV</text><text class="st" transform="translate(254.22 619.70) rotate(0.03) scale(0.96 1.06)">*</text><text class="st" transform="translate(308.06 619.70) rotate(0.03) scale(0.96 1.06)">*</text><text class="st" transform="translate(415.74 619.70) rotate(0.03) scale(0.96 1.06)">***</text><text class="st" transform="translate(469.59 619.70) rotate(0.03) scale(0.96 1.06)">***</text>
<text class="rl" x="163" y="641.68" transform="rotate(0.03 163 641.68)">PAAD</text><text class="st" transform="translate(254.22 645.58) rotate(0.03) scale(0.96 1.06)">***</text><text class="st" transform="translate(308.06 645.58) rotate(0.03) scale(0.96 1.06)">***</text><text class="st" transform="translate(361.90 645.58) rotate(0.03) scale(0.96 1.06)">*</text><text class="st" transform="translate(415.74 645.58) rotate(0.03) scale(0.96 1.06)">***</text><text class="st" transform="translate(469.59 645.58) rotate(0.03) scale(0.96 1.06)">***</text><text class="st" transform="translate(523.43 645.58) rotate(0.03) scale(0.96 1.06)">***</text>
<text class="rl" x="163" y="667.56" transform="rotate(0.03 163 667.56)">PCPG</text><text class="st" transform="translate(200.37 671.46) rotate(0.03) scale(0.96 1.06)">***</text>
<text class="rl" x="163" y="693.44" transform="rotate(0.03 163 693.44)">PRAD</text><text class="st" transform="translate(200.37 697.34) rotate(0.03) scale(0.96 1.06)">***</text><text class="st" transform="translate(254.22 697.34) rotate(0.03) scale(0.96 1.06)">***</text><text class="st" transform="translate(308.06 697.34) rotate(0.03) scale(0.96 1.06)">***</text><text class="st" transform="translate(361.90 697.34) rotate(0.03) scale(0.96 1.06)">***</text><text class="st" transform="translate(415.74 697.34) rotate(0.03) scale(0.96 1.06)">***</text><text class="st" transform="translate(469.59 697.34) rotate(0.03) scale(0.96 1.06)">***</text><text class="st" transform="translate(523.43 697.34) rotate(0.03) scale(0.96 1.06)">***</text>
<text class="rl" x="163" y="719.32" transform="rotate(0.03 163 719.32)">READ</text><text class="st" transform="translate(254.22 723.22) rotate(0.03) scale(0.96 1.06)">***</text><text class="st" transform="translate(308.06 723.22) rotate(0.03) scale(0.96 1.06)">***</text><text class="st" transform="translate(361.90 723.22) rotate(0.03) scale(0.96 1.06)">**</text><text class="st" transform="translate(415.74 723.22) rotate(0.03) scale(0.96 1.06)">***</text><text class="st" transform="translate(523.43 723.22) rotate(0.03) scale(0.96 1.06)">**</text>
<text class="rl" x="163" y="745.20" transform="rotate(0.03 163 745.20)">SARC</text><text class="st" transform="translate(200.37 749.10) rotate(0.03) scale(0.96 1.06)">***</text><text class="st" transform="translate(308.06 749.10) rotate(0.03) scale(0.96 1.06)">**</text><text class="st" transform="translate(469.59 749.10) rotate(0.03) scale(0.96 1.06)">*</text>
<text class="rl" x="163" y="771.08" transform="rotate(0.03 163 771.08)">SKCM</text><text class="st" transform="translate(200.37 774.98) rotate(0.03) scale(0.96 1.06)">***</text><text class="st" transform="translate(254.22 774.98) rotate(0.03) scale(0.96 1.06)">*</text><text class="st" transform="translate(415.74 774.98) rotate(0.03) scale(0.96 1.06)">*</text>
<text class="rl" x="163" y="796.96" transform="rotate(0.03 163 796.96)">SKCM−Primary</text><text class="st" transform="translate(200.37 800.86) rotate(0.03) scale(0.96 1.06)">***</text><text class="st" transform="translate(254.22 800.86) rotate(0.03) scale(0.96 1.06)">*</text>
<text class="rl" x="163" y="822.84" transform="rotate(0.03 163 822.84)">SKCM−Metastasis</text><text class="st" transform="translate(200.37 826.74) rotate(0.03) scale(0.96 1.06)">***</text>
<text class="rl" x="163" y="848.73" transform="rotate(0.03 163 848.73)">STAD</text><text class="st" transform="translate(254.22 852.62) rotate(0.03) scale(0.96 1.06)">*</text><text class="st" transform="translate(308.06 852.62) rotate(0.03) scale(0.96 1.06)">*</text><text class="st" transform="translate(361.90 852.62) rotate(0.03) scale(0.96 1.06)">***</text><text class="st" transform="translate(415.74 852.62) rotate(0.03) scale(0.96 1.06)">***</text><text class="st" transform="translate(469.59 852.62) rotate(0.03) scale(0.96 1.06)">**</text><text class="st" transform="translate(523.43 852.62) rotate(0.03) scale(0.96 1.06)">***</text>
<text class="rl" x="163" y="874.61" transform="rotate(0.03 163 874.61)">TGCT</text><text class="st" transform="translate(254.22 878.51) rotate(0.03) scale(0.96 1.06)">***</text><text class="st" transform="translate(308.06 878.51) rotate(0.03) scale(0.96 1.06)">***</text><text class="st" transform="translate(361.90 878.51) rotate(0.03) scale(0.96 1.06)">**</text><text class="st" transform="translate(415.74 878.51) rotate(0.03) scale(0.96 1.06)">*</text><text class="st" transform="translate(469.59 878.51) rotate(0.03) scale(0.96 1.06)">***</text><text class="st" transform="translate(523.43 878.51) rotate(0.03) scale(0.96 1.06)">***</text>
<text class="rl" x="163" y="900.49" transform="rotate(0.03 163 900.49)">THCA</text><text class="st" transform="translate(200.37 904.39) rotate(0.03) scale(0.96 1.06)">**</text><text class="st" transform="translate(254.22 904.39) rotate(0.03) scale(0.96 1.06)">***</text><text class="st" transform="translate(308.06 904.39) rotate(0.03) scale(0.96 1.06)">***</text><text class="st" transform="translate(361.90 904.39) rotate(0.03) scale(0.96 1.06)">***</text><text class="st" transform="translate(415.74 904.39) rotate(0.03) scale(0.96 1.06)">***</text><text class="st" transform="translate(469.59 904.39) rotate(0.03) scale(0.96 1.06)">***</text><text class="st" transform="translate(523.43 904.39) rotate(0.03) scale(0.96 1.06)">***</text>
<text class="rl" x="163" y="926.37" transform="rotate(0.03 163 926.37)">THYM</text><text class="st" transform="translate(254.22 930.27) rotate(0.03) scale(0.96 1.06)">***</text><text class="st" transform="translate(308.06 930.27) rotate(0.03) scale(0.96 1.06)">***</text><text class="st" transform="translate(361.90 930.27) rotate(0.03) scale(0.96 1.06)">***</text><text class="st" transform="translate(415.74 930.27) rotate(0.03) scale(0.96 1.06)">***</text><text class="st" transform="translate(523.43 930.27) rotate(0.03) scale(0.96 1.06)">***</text>
<text class="rl" x="163" y="952.25" transform="rotate(0.03 163 952.25)">UCEC</text><text class="st" transform="translate(308.06 956.15) rotate(0.03) scale(0.96 1.06)">*</text><text class="st" transform="translate(469.59 956.15) rotate(0.03) scale(0.96 1.06)">**</text><text class="st" transform="translate(523.43 956.15) rotate(0.03) scale(0.96 1.06)">*</text>
<text class="rl" x="163" y="978.13" transform="rotate(0.03 163 978.13)">UCS</text>
<text class="rl" x="163" y="1004.01" transform="rotate(0.03 163 1004.01)">UVM</text><text class="st" transform="translate(469.59 1007.91) rotate(0.03) scale(0.96 1.06)">*</text>
<text class="cl" transform="translate(208.62,1027.70) rotate(-43.2)">Purity</text>
<text class="cl" transform="translate(262.46,1027.70) rotate(-43.2)">B Cell</text>
<text class="cl" transform="translate(316.31,1027.70) rotate(-43.2)">CD8+ T Cell</text>
<text class="cl" transform="translate(370.15,1027.70) rotate(-43.2)">CD4+ T Cell</text>
<text class="cl" transform="translate(423.99,1027.70) rotate(-43.2)">Macrophage</text>
<text class="cl" transform="translate(477.84,1027.70) rotate(-43.2)">Neutrophil</text>
<text class="cl" transform="translate(531.68,1027.70) rotate(-43.2)">Dendritic Cell</text>
<text class="lg" x="561.6" y="373.9">* p &lt; 0.05</text>
<text class="lg" x="567" y="417">** p &lt; 0.01</text>
<text class="lg" x="567" y="460.4">*** p &lt; 0.001</text>
<text class="lg" x="567" y="503">Cor</text>
<rect x="561.1" y="511.3" width="30.6" height="140.4" fill="url(#cb)"/>
<path d="M561.1 511.30h6.120000000000001 M591.7 511.30h-6.120000000000001" stroke="#fff" stroke-width="1" fill="none"/><text class="lg" x="605" y="518.30">1.0</text>
<path d="M561.1 546.40h6.120000000000001 M591.7 546.40h-6.120000000000001" stroke="#fff" stroke-width="1" fill="none"/><text class="lg" x="605" y="553.40">0.5</text>
<path d="M561.1 581.50h6.120000000000001 M591.7 581.50h-6.120000000000001" stroke="#fff" stroke-width="1" fill="none"/><text class="lg" x="605" y="588.50">0.0</text>
<path d="M561.1 616.60h6.120000000000001 M591.7 616.60h-6.120000000000001" stroke="#fff" stroke-width="1" fill="none"/><text class="lg" x="605" y="623.60">−0.5</text>
<path d="M561.1 651.70h6.120000000000001 M591.7 651.70h-6.120000000000001" stroke="#fff" stroke-width="1" fill="none"/><text class="lg" x="605" y="658.70">−1.0</text>
</svg>
</body></html>
